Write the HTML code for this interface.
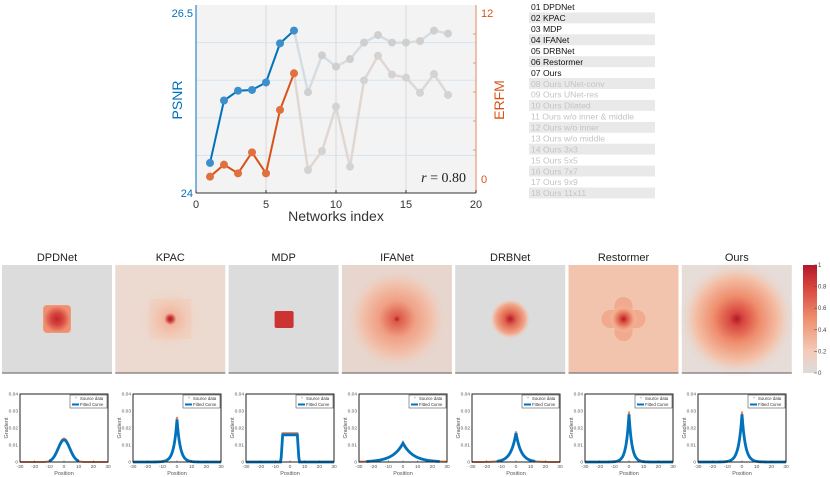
<!DOCTYPE html>
<html><head><meta charset="utf-8"><style>
html,body{margin:0;padding:0;background:#fff;}
svg{display:block;font-family:"Liberation Sans",sans-serif;}
</style></head><body>
<svg id="fig" width="830" height="477" viewBox="0 0 830 477">
<g id="topchart"></g>
<g id="legend"></g>
<g id="maps"></g>
<g id="curves"></g>
</svg>
<script>
const NS="http://www.w3.org/2000/svg";
function el(tag,attrs,parent){const e=document.createElementNS(NS,tag);for(const k in attrs)e.setAttribute(k,attrs[k]);if(parent)parent.appendChild(e);return e;}

// ---------- data ----------
const networkIndex=[1,2,3,4,5,6,7,8,9,10,11,12,13,14,15,16,17,18];
const psnrValues=[24.40,25.23,25.36,25.37,25.47,25.99,26.16,25.34,25.83,25.68,25.78,26.00,26.10,26.00,26.00,26.02,26.16,26.12];
const erfmValues=[0.16,0.99,0.39,1.84,0.39,4.76,7.29,0.62,1.93,4.99,0.85,6.8,8.5,7.2,6.99,5.95,7.24,5.8];
const xTicks=[0,5,10,15,20];
const networkNames=["DPDNet","KPAC","MDP","IFANet","DRBNet","Restormer","Ours","Ours UNet-conv","Ours UNet-res","Ours Dilated","Ours w/o inner & middle","Ours w/o inner","Ours w/o middle","Ours 3x3","Ours 5x5","Ours 7x7","Ours 9x9","Ours 11x11"];
const mapNames=["DPDNet","KPAC","MDP","IFANet","DRBNet","Restormer","Ours"];
const curvePeaks=[0.013,0.025,0.016,0.011,0.017,0.028,0.028];
const curveWidths=[4,2.2,5,7,3.5,2,2.3];
const curveRanges=[10,30,30,25,13,30,30];
const curveShapes=["gauss","laplace","flat","laplace","laplace","laplace","laplace"];
const colorbarTicks=[0,0.2,0.4,0.6,0.8,1];

// ---------- top chart ----------
const topG=document.getElementById('topchart');
const X0=196,X1=476,YT=5,YB=193;
const xs=v=>X0+(v-0)/(20-0)*(X1-X0);
const yP=v=>YB-(v-24)/(26.5-24)*(YB-YT);
const yE=v=>179-v*14.5;
el('rect',{x:X0,y:YT,width:X1-X0,height:YB-YT,fill:'#f3f3f3'},topG);
[5,10,15].forEach(v=>{const g=el('line',{x1:xs(v),x2:xs(v),y1:YT,y2:YB,stroke:'#d8d8d8','stroke-width':1},topG);});
[24.5,25,25.5,26].forEach(v=>{const g=el('line',{x1:X0,x2:X1,y1:yP(v),y2:yP(v),stroke:'#d5e4f1','stroke-width':1},topG);});
function poly(vals,fn,from,to){return networkIndex.slice(from,to).map((n,i)=>xs(n)+','+fn(vals[from+i])).join(' ');}
let gp=el('polyline',{points:poly(psnrValues,yP,6,18),fill:'none',stroke:'#d4dde3','stroke-width':2.5},topG);

let ge=el('polyline',{points:poly(erfmValues,yE,6,18),fill:'none',stroke:'#e0d7d2','stroke-width':2.5},topG);

for(let i=7;i<18;i++){
  let m=el('circle',{cx:xs(networkIndex[i]),cy:yP(psnrValues[i]),r:4,fill:'#cfcfcf'},topG);
  
  let m2=el('circle',{cx:xs(networkIndex[i]),cy:yE(erfmValues[i]),r:4,fill:'#d3d3d3'},topG);
  
}
let bl=el('polyline',{points:poly(psnrValues,yP,0,7),fill:'none',stroke:'#0072bd','stroke-width':2},topG);

let ol=el('polyline',{points:poly(erfmValues,yE,0,7),fill:'none',stroke:'#d95319','stroke-width':2},topG);

for(let i=0;i<7;i++){
  let m=el('circle',{cx:xs(networkIndex[i]),cy:yP(psnrValues[i]),r:4,fill:'#3a8fcc'},topG);
  
  let m2=el('circle',{cx:xs(networkIndex[i]),cy:yE(erfmValues[i]),r:4,fill:'#e2703e'},topG);
  
}
el('line',{x1:X0,x2:X1,y1:YB,y2:YB,stroke:'#333','stroke-width':1},topG);
el('line',{x1:X0,x2:X0,y1:YT,y2:YB,stroke:'#0072bd','stroke-width':1},topG);
el('line',{x1:X1,x2:X1,y1:YT,y2:YB,stroke:'#e69a78','stroke-width':1.2},topG);
xTicks.forEach(v=>{
  el('line',{x1:xs(v),x2:xs(v),y1:YB,y2:YB-3,stroke:'#333'},topG);
  let t=el('text',{x:xs(v),y:208,'font-size':11,'text-anchor':'middle',fill:'#333'},topG);t.textContent=v;
  
});
[2,4,6,8,10].forEach(v=>el('line',{x1:X1,x2:X1-3,y1:yE(v),y2:yE(v),stroke:'#e69a78'},topG));
let t;
t=el('text',{x:193,y:17,'font-size':11,'text-anchor':'end',fill:'#0072bd'},topG);t.textContent='26.5';
t=el('text',{x:193,y:197,'font-size':11,'text-anchor':'end',fill:'#0072bd'},topG);t.textContent='24';
t=el('text',{x:481,y:17,'font-size':11,fill:'#d95319'},topG);t.textContent='12';
t=el('text',{x:481,y:183,'font-size':11,fill:'#d95319'},topG);t.textContent='0';
t=el('text',{x:0,y:0,'font-size':14,'text-anchor':'middle',fill:'#0072bd',transform:'translate(182,100) rotate(-90)'},topG);t.textContent='PSNR';
t=el('text',{x:0,y:0,'font-size':14,'text-anchor':'middle',fill:'#d95319',transform:'translate(504,100) rotate(-90)'},topG);t.textContent='ERFM';
t=el('text',{x:336,y:221,'font-size':14,'text-anchor':'middle',fill:'#333'},topG);t.textContent='Networks index';
t=el('text',{x:466,y:182,'font-size':14,'text-anchor':'end',fill:'#222','font-family':'Liberation Serif, serif'},topG);
const ts1=el('tspan',{'font-style':'italic'},t);ts1.textContent='r';
const ts2=el('tspan',{},t);ts2.textContent=' = 0.80';


// ---------- legend ----------
const lg=document.getElementById('legend');
networkNames.forEach((n,i)=>{
  const cy=7+i*10.94;
  if(i%2===1){let r=el('rect',{x:529,y:cy-5.5,width:126,height:10.9,fill:'#e9e9e9'},lg);}
  let tt=el('text',{x:531,y:cy+3.2,'font-size':8.6,fill:i<7?'#111':'#c4c4c4'},lg);
  tt.setAttribute('xml:space','preserve');
  tt.textContent=String(i+1).padStart(2,'0')+'  '+n;
  
});

// ---------- heatmaps ----------
const mp=document.getElementById('maps');
const defs=el('defs',{},document.getElementById('fig'));
function rg(id,stops){const g=el('radialGradient',{id:id,cx:'50%',cy:'50%',r:'50%'},defs);stops.forEach(s=>el('stop',{offset:s[0],'stop-color':s[1],'stop-opacity':s[2]===undefined?1:s[2]},g));}
rg('gDP',[[0,'#c0262e'],[0.5,'#d8483f'],[1,'#ef8f70']]);
rg('gK',[[0,'#b2182b'],[0.08,'#c8383a'],[0.2,'#f2b59c'],[1,'#f2d6c8',0]]);
rg('gI',[[0,'#b2182b'],[0.06,'#dc5a48'],[0.35,'#f0a084'],[0.7,'#f1c4b0'],[1,'#ead8cf',0]]);
rg('gDR',[[0,'#b2182b'],[0.3,'#e0634c'],[0.75,'#f2a98c'],[1,'#f3c9b7',0]]);
rg('gR',[[0,'#b2182b'],[0.3,'#de5a45'],[0.7,'#f0a486'],[1,'#f3c4ad',0]]);
rg('gO',[[0,'#b2182b'],[0.12,'#d8483f'],[0.4,'#ef8d6c'],[0.75,'#f3c4ad'],[1,'#e6dcd8',0]]);
const cbg=el('linearGradient',{id:'cb',x1:0,y1:1,x2:0,y2:0},defs);
[[0,'#dcdcdc'],[0.2,'#f3cbb9'],[0.5,'#ef8f6f'],[0.8,'#d6443c'],[1,'#b2182b']].forEach(s=>el('stop',{offset:s[0],'stop-color':s[1]},cbg));
const mapBg=['#dcdcdc','#ecd9cf','#dcdcdc','#e6d6ce','#dcdcdc','#f3c4ad','#e6dcd8'];
mapNames.forEach((n,i)=>{
  const x=2+i*113.3,y=265,w=110,h=108,cx=x+w/2,cy=y+h/2;
  const g=el('g',{},mp);
  el('rect',{x:x,y:y,width:w,height:h,fill:mapBg[i]},g);
  if(i===0){el('rect',{x:cx-14,y:cy-14,width:28,height:28,rx:4,fill:'#f09a7c'},g);el('rect',{x:cx-13,y:cy-13,width:26,height:26,rx:4,fill:'url(#gDP)'},g);}
  if(i===1){el('rect',{x:cx-21,y:cy-20,width:42,height:40,fill:'#f2cbb9',opacity:0.6},g);el('circle',{cx:cx,cy:cy,r:30,fill:'url(#gK)'},g);}
  if(i===2){el('rect',{x:cx-9,y:cy-8,width:19,height:17,rx:2,fill:'#cc3434'},g);}
  if(i===3){el('circle',{cx:cx,cy:cy,r:52,fill:'url(#gI)'},g);}
  if(i===4){el('circle',{cx:cx,cy:cy,r:20,fill:'url(#gDR)'},g);}
  if(i===5){el('rect',{x:cx-22,y:cy-9,width:44,height:18,rx:9,fill:'#f0a486',opacity:0.8},g);el('rect',{x:cx-9,y:cy-22,width:18,height:44,rx:9,fill:'#f0a486',opacity:0.8},g);el('circle',{cx:cx,cy:cy,r:14,fill:'url(#gR)'},g);}
  if(i===6){el('circle',{cx:cx,cy:cy,r:58,fill:'url(#gO)'},g);}
  el('line',{x1:x,x2:x+w,y1:y+h,y2:y+h,stroke:'#777','stroke-width':1.2},g);
  let tt=el('text',{x:cx,y:261,'font-size':11,'text-anchor':'middle',fill:'#222'},mp);tt.textContent=n;
  
});
let cbr=el('rect',{x:803,y:265,width:14,height:108,fill:'url(#cb)'},mp);
colorbarTicks.forEach(v=>{const yy=373-v*108;el('line',{x1:814,x2:817,y1:yy,y2:yy,stroke:'#555','stroke-width':0.6},mp);
  let tt=el('text',{x:818,y:yy+2,'font-size':6,fill:'#444'},mp);tt.textContent=v;});

// ---------- curve plots ----------
const cv=document.getElementById('curves');
function f(shape,p,w,x){const a=Math.abs(x);if(shape==='gauss')return p*Math.exp(-x*x/(2*w*w));if(shape==='flat')return a<w?p:(a<w+1.2?p*(1-(a-w)/1.2):0);return p*Math.exp(-a/w);}
mapNames.forEach((n,i)=>{
  const bx=20+i*113,by=394,bw=88,bh=68;
  const px=v=>bx+(v+30)/60*bw, py=v=>by+bh-v/0.04*bh;
  const g=el('g',{},cv);
  const ptsS=[],pts=[];
  const R=curveRanges[i];
  for(let x=-R;x<=R;x+=0.5){pts.push(px(x)+','+py(f(curveShapes[i],curvePeaks[i],curveWidths[i],x)));}
  for(let x=-30;x<=30;x+=0.5){ptsS.push(px(x)+','+py(f(curveShapes[i],curvePeaks[i]*1.06,curveWidths[i],x)));}
  el('polyline',{points:ptsS.join(' '),fill:'none',stroke:'#e8845c','stroke-width':2},g);
  el('polyline',{points:pts.join(' '),fill:'none',stroke:'#0072bd','stroke-width':2.8},g);
  el('rect',{x:bx,y:by,width:bw,height:bh,fill:'none',stroke:'#222','stroke-width':1},g);
  [-30,-20,-10,0,10,20,30].forEach(v=>{el('line',{x1:px(v),x2:px(v),y1:by+bh,y2:by+bh-1.5,stroke:'#222','stroke-width':0.5},g);
    let tt=el('text',{x:px(v),y:by+bh+6,'font-size':4.8,'text-anchor':'middle',fill:'#555'},g);tt.textContent=v;});
  [0,0.01,0.02,0.03,0.04].forEach(v=>{let tt=el('text',{x:bx-2,y:py(v)+1.7,'font-size':4.8,'text-anchor':'end',fill:'#555'},g);tt.textContent=v;});
  let xl=el('text',{x:bx+bw/2,y:by+bh+13,'font-size':5.5,'text-anchor':'middle',fill:'#555'},g);xl.textContent='Position';
  let yl=el('text',{x:0,y:0,'font-size':5.5,'text-anchor':'middle',fill:'#555',transform:'translate('+(bx-12)+','+(by+bh/2)+') rotate(-90)'},g);yl.textContent='Gradient';
  const lx=bx+bw-38,ly=by+1;
  const lgd=el('g',{},g);
  el('rect',{x:lx,y:ly,width:37,height:13,fill:'#fff',stroke:'#333','stroke-width':0.5},lgd);
  el('text',{x:lx+5,y:ly+5.5,'font-size':5,fill:'#e8845c'},lgd).textContent='*';
  el('text',{x:lx+10,y:ly+5,'font-size':4.3,fill:'#333'},lgd).textContent='Source data';
  el('line',{x1:lx+2,x2:lx+9,y1:ly+9.5,y2:ly+9.5,stroke:'#0072bd','stroke-width':2},lgd);
  el('text',{x:lx+10,y:ly+11,'font-size':4.3,fill:'#333'},lgd).textContent='Fitted Curve';
});
</script>
</body></html>
